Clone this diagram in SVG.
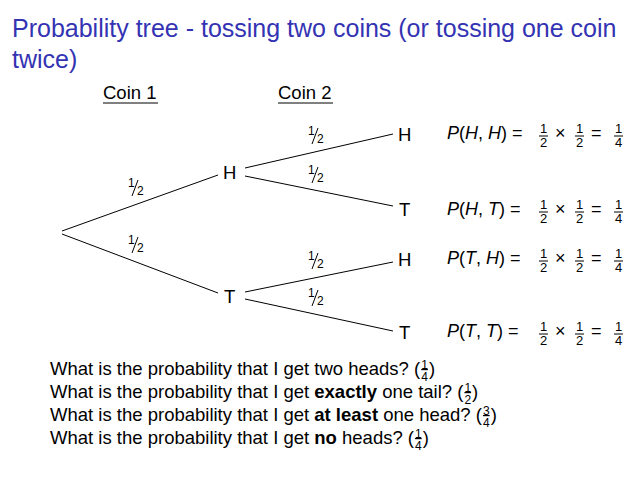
<svg xmlns="http://www.w3.org/2000/svg" width="638" height="479" viewBox="0 0 638 479">
<style>
text{font-family:"Liberation Sans",Arial,sans-serif;fill:#000}
.t{fill:#3333b3;font-size:25px}
.n{font-size:18.5px}
.s{font-size:12px}
.f{font-size:13px}
.m{font-size:18px}
.i{font-style:italic}
.q{font-size:18.5px}
.b{font-weight:bold}
.d{text-decoration:overline}
line{stroke:#000;stroke-width:1}
</style>
<rect width="638" height="479" fill="#fff"/>
<text class="t" x="12" y="37">Probability tree - tossing two coins (or tossing one coin</text>
<text class="t" x="12" y="68">twice)</text>
<g id="headers">
<text class="n" x="103" y="99">Coin 1</text><line x1="103" y1="103" x2="158" y2="103"/>
<text class="n" x="278" y="99">Coin 2</text><line x1="278" y1="103" x2="333" y2="103"/>
</g>
<g id="connectors">
<line x1="62" y1="231" x2="218" y2="175"/>
<line x1="62" y1="234" x2="218" y2="293"/>
<line x1="245" y1="168" x2="393" y2="134"/>
<line x1="245" y1="176" x2="393" y2="206"/>
<line x1="245" y1="292" x2="393" y2="262"/>
<line x1="245" y1="299" x2="393" y2="331"/>
</g>
<g id="probs">
<g transform="translate(128,190)"><text class="s" x="0" y="-3">1</text><line x1="4" y1="6" x2="10" y2="-10"/><text class="s" x="9" y="5">2</text></g>
<g transform="translate(128,247)"><text class="s" x="0" y="-3">1</text><line x1="4" y1="6" x2="10" y2="-10"/><text class="s" x="9" y="5">2</text></g>
<g transform="translate(308,138)"><text class="s" x="0" y="-3">1</text><line x1="4" y1="6" x2="10" y2="-10"/><text class="s" x="9" y="5">2</text></g>
<g transform="translate(308,177)"><text class="s" x="0" y="-3">1</text><line x1="4" y1="6" x2="10" y2="-10"/><text class="s" x="9" y="5">2</text></g>
<g transform="translate(308,263)"><text class="s" x="0" y="-3">1</text><line x1="4" y1="6" x2="10" y2="-10"/><text class="s" x="9" y="5">2</text></g>
<g transform="translate(308,300)"><text class="s" x="0" y="-3">1</text><line x1="4" y1="6" x2="10" y2="-10"/><text class="s" x="9" y="5">2</text></g>
</g>
<g id="n-H1"><text class="n" x="223" y="179">H</text></g>
<g id="n-T1"><text class="n" x="224" y="303">T</text></g>
<g id="n-HH"><text class="n" x="398" y="141">H</text></g>
<g id="n-HT"><text class="n" x="399" y="216">T</text></g>
<g id="n-TH"><text class="n" x="398" y="266">H</text></g>
<g id="n-TT"><text class="n" x="399" y="339">T</text></g>
<g id="eqs">
<g transform="translate(447,139)"><text class="m"><tspan class="i">P</tspan>(<tspan class="i">H</tspan>, <tspan class="i">H</tspan>) =</text><text class="f" x="93" y="-6">1</text><line x1="92" y1="-3" x2="101" y2="-3"/><text class="f" x="93" y="8">2</text><text class="m" x="108">×</text><text class="f" x="129" y="-6">1</text><line x1="128" y1="-3" x2="137" y2="-3"/><text class="f" x="129" y="8">2</text><text class="m" x="144">=</text><text class="f" x="168" y="-6">1</text><line x1="167" y1="-3" x2="176" y2="-3"/><text class="f" x="168" y="8">4</text></g>
<g transform="translate(447,215)"><text class="m"><tspan class="i">P</tspan>(<tspan class="i">H</tspan>, <tspan class="i">T</tspan>) =</text><text class="f" x="93" y="-6">1</text><line x1="92" y1="-3" x2="101" y2="-3"/><text class="f" x="93" y="8">2</text><text class="m" x="108">×</text><text class="f" x="129" y="-6">1</text><line x1="128" y1="-3" x2="137" y2="-3"/><text class="f" x="129" y="8">2</text><text class="m" x="144">=</text><text class="f" x="168" y="-6">1</text><line x1="167" y1="-3" x2="176" y2="-3"/><text class="f" x="168" y="8">4</text></g>
<g transform="translate(447,264)"><text class="m"><tspan class="i">P</tspan>(<tspan class="i">T</tspan>, <tspan class="i">H</tspan>) =</text><text class="f" x="93" y="-6">1</text><line x1="92" y1="-3" x2="101" y2="-3"/><text class="f" x="93" y="8">2</text><text class="m" x="108">×</text><text class="f" x="129" y="-6">1</text><line x1="128" y1="-3" x2="137" y2="-3"/><text class="f" x="129" y="8">2</text><text class="m" x="144">=</text><text class="f" x="168" y="-6">1</text><line x1="167" y1="-3" x2="176" y2="-3"/><text class="f" x="168" y="8">4</text></g>
<g transform="translate(447,337)"><text class="m"><tspan class="i">P</tspan>(<tspan class="i">T</tspan>, <tspan class="i">T</tspan>) =</text><text class="f" x="93" y="-6">1</text><line x1="92" y1="-3" x2="101" y2="-3"/><text class="f" x="93" y="8">2</text><text class="m" x="108">×</text><text class="f" x="129" y="-6">1</text><line x1="128" y1="-3" x2="137" y2="-3"/><text class="f" x="129" y="8">2</text><text class="m" x="144">=</text><text class="f" x="168" y="-6">1</text><line x1="167" y1="-3" x2="176" y2="-3"/><text class="f" x="168" y="8">4</text></g>
</g>
<g id="questions">
<text class="q" x="50" y="375">What is the probability that I get two heads? (<tspan class="s" dx="1" dy="-6">1</tspan><tspan class="s d" dx="-6.7" dy="12">4</tspan><tspan dx="1" dy="-6">)</tspan></text>
<text class="q" x="50" y="398">What is the probability that I get <tspan class="b">exactly</tspan> one tail? (<tspan class="s" dx="1" dy="-6">1</tspan><tspan class="s d" dx="-6.7" dy="12">2</tspan><tspan dx="1" dy="-6">)</tspan></text>
<text class="q" x="50" y="421">What is the probability that I get <tspan class="b">at least</tspan> one head? (<tspan class="s" dx="1" dy="-6">3</tspan><tspan class="s d" dx="-6.7" dy="12">4</tspan><tspan dx="1" dy="-6">)</tspan></text>
<text class="q" x="50" y="444">What is the probability that I get <tspan class="b">no</tspan> heads? (<tspan class="s" dx="1" dy="-6">1</tspan><tspan class="s d" dx="-6.7" dy="12">4</tspan><tspan dx="1" dy="-6">)</tspan></text>
</g>
</svg>
